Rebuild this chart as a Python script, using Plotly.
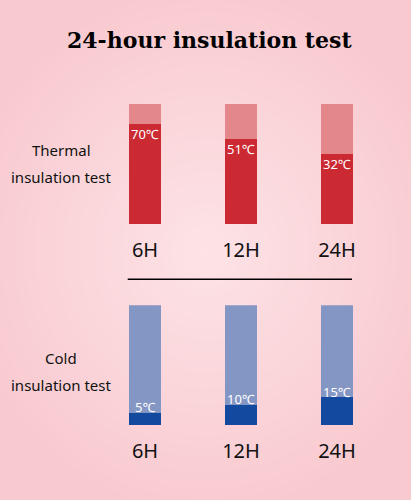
import numpy as np
import plotly.graph_objects as go

# ---- data ----
hours = ["6H", "12H", "24H"]
thermal_temps = [70, 51, 32]      # °C after n hours (hot water)
cold_temps = [5, 10, 15]          # °C after n hours (ice water)

# gauge scales: bottom and top of each tube, in °C
thermal_scale = [-56.6, 95.5]
cold_scale = [-3.05, 75.4]

W, H = 411, 500

# ---- colours ----
bg_edge = "#f8c9cf"
bg_centre = "#fde3e6"
red_tube, red_fill = "#e3878b", "#cc2a33"
blue_tube, blue_fill = "#8496c4", "#1449a0"

fig = go.Figure()

# soft radial background glow on a full-page helper axis
gx = np.linspace(0, 1, 60)
gy = np.linspace(0, 1, 70)
XX, YY = np.meshgrid(gx, gy)
dist = np.sqrt(((XX - 0.5) / 0.62) ** 2 + ((YY - 0.5) / 0.55) ** 2)
fig.add_trace(go.Heatmap(
    x=gx, y=gy, z=np.clip(dist, 0, 1), zmin=0, zmax=1,
    colorscale=[[0, bg_centre], [1, bg_edge]], zsmooth="best",
    showscale=False, hoverinfo="skip", xaxis="x", yaxis="y",
))


def add_panel(temps, scale, tube_col, fill_col, xa, ya):
    lo, hi = scale
    # empty tube
    fig.add_trace(go.Bar(
        x=hours, y=[hi - lo] * len(hours), base=[lo] * len(hours),
        marker=dict(color=tube_col, line=dict(width=0)), width=1 / 3,
        hoverinfo="skip", xaxis=xa, yaxis=ya, showlegend=False,
    ))
    # temperature reading
    fig.add_trace(go.Bar(
        x=hours, y=[t - lo for t in temps], base=[lo] * len(hours),
        marker=dict(color=fill_col, line=dict(width=0)), width=1 / 3,
        hoverinfo="skip", xaxis=xa, yaxis=ya, showlegend=False,
    ))


add_panel(thermal_temps, thermal_scale, red_tube, red_fill, "x2", "y2")
add_panel(cold_temps, cold_scale, blue_tube, blue_fill, "x3", "y3")

label_font = dict(family="Noto Sans, Open Sans, sans-serif", size=13, color="white")
ann = []
for h, t in zip(hours, thermal_temps):
    ann.append(dict(x=h, y=t, xref="x2", yref="y2", text=f"{t}℃",
                    showarrow=False, yanchor="top", yshift=1, font=label_font))
for h, t in zip(hours, cold_temps):
    ann.append(dict(x=h, y=t, xref="x3", yref="y3", text=f"{t}℃",
                    showarrow=False, yanchor="bottom", yshift=-5, font=label_font))

side_font = dict(family="Noto Sans, Open Sans, sans-serif", size=15, color="#111111")
for txt, py in [("Thermal", 150), ("insulation test", 177),
                ("Cold", 357.7), ("insulation test", 385)]:
    ann.append(dict(x=61 / W, y=1 - py / H, xref="paper", yref="paper", text=txt,
                    showarrow=False, xanchor="center", yanchor="middle", font=side_font))

ann.append(dict(x=209.5 / W, y=1 - 40 / H, xref="paper", yref="paper",
                text="<b>24-hour insulation test</b>", showarrow=False,
                xanchor="center", yanchor="middle",
                font=dict(family="DejaVu Serif, serif", size=22, color="black")))

xdom = [97 / W, 385 / W]
tick_font = dict(family="Noto Sans, Open Sans, sans-serif", size=20, color="#111111")
hidden = dict(visible=False, fixedrange=True)

fig.update_layout(
    width=W, height=H,
    margin=dict(l=0, r=0, t=0, b=0),
    paper_bgcolor=bg_edge, plot_bgcolor="rgba(0,0,0,0)",
    barmode="overlay", bargap=0,
    xaxis=dict(domain=[0, 1], range=[0, 1], **hidden),
    yaxis=dict(domain=[0, 1], range=[0, 1], **hidden),
    xaxis2=dict(domain=xdom, anchor="y2", type="category", range=[-0.5, 2.5],
                showgrid=False, zeroline=False, showline=False, ticks="",
                ticklabelstandoff=12, tickfont=tick_font),
    yaxis2=dict(domain=[1 - 224 / H, 1 - 104 / H], range=thermal_scale, anchor="x2",
                **hidden),
    xaxis3=dict(domain=xdom, anchor="y3", type="category", range=[-0.5, 2.5],
                showgrid=False, zeroline=False, showline=False, ticks="",
                ticklabelstandoff=12, tickfont=tick_font),
    yaxis3=dict(domain=[1 - 425.3 / H, 1 - 305.3 / H], range=cold_scale, anchor="x3",
                **hidden),
    annotations=ann,
    shapes=[dict(type="line", xref="paper", yref="paper",
                 x0=127.7 / W, x1=352 / W, y0=1 - 279.3 / H, y1=1 - 279.3 / H,
                 line=dict(color="black", width=1.5))],
)

fig.write_html("out.html")
